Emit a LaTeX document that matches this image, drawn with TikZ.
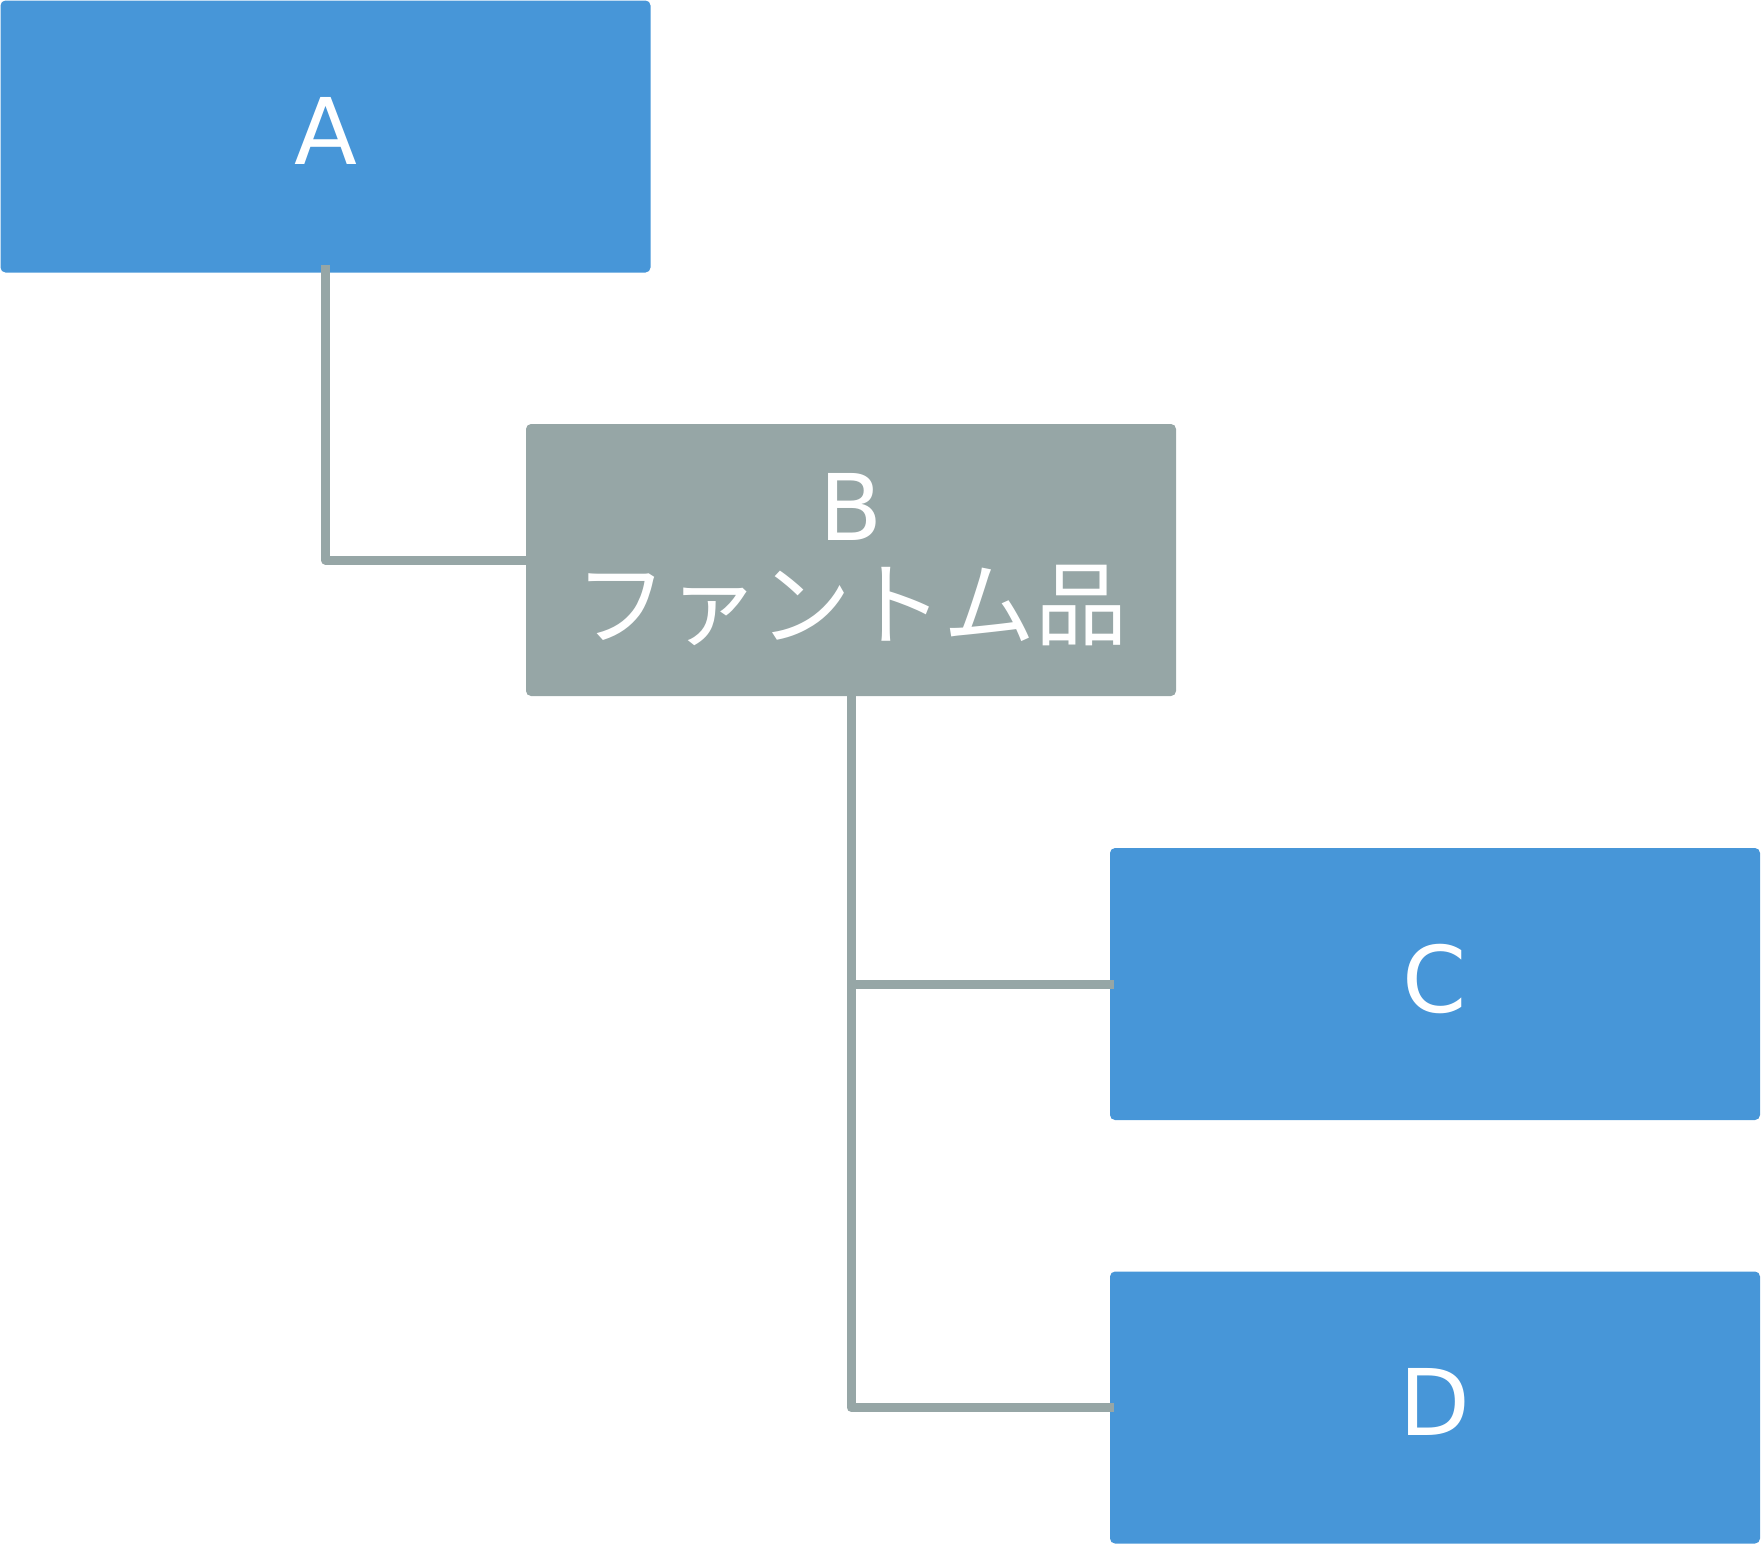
\documentclass[tikz,border=0pt]{standalone}
\usepackage{fontspec}
\setmainfont{DejaVu Sans}
\newfontfamily\cjk{Noto Sans CJK JP}
\definecolor{boxblue}{RGB}{71,150,216}
\definecolor{boxgray}{RGB}{150,166,166}
\begin{document}
\begin{tikzpicture}[x=0.5pt,y=-0.5pt,
  card/.style={rounded corners=2.5pt, minimum width=325pt, minimum height=136pt,
    inner sep=0pt, text=white, align=center, font=\fontsize{46}{49}\selectfont},
  bluecard/.style={card, fill=boxblue, text depth=6pt},
  graycard/.style={card, fill=boxgray},
  link/.style={draw=boxgray, line width=4.5pt, line join=round}]
\useasboundingbox (0,0) rectangle (1761,1544);
\node[bluecard] (A) at (325.5,136.5) {A};
\node[graycard] (B) at (851,560) {B\\{\cjk ファントム品}};
\node[bluecard] (C) at (1435,984) {C};
\node[bluecard] (D) at (1435,1407.5) {D};
\draw[link] ([yshift=4pt]A.south) |- (B.west);
\draw[link] (B.south) |- ([xshift=2pt]C.west);
\draw[link] (B.south) |- ([xshift=2pt]D.west);
\end{tikzpicture}
\end{document}
